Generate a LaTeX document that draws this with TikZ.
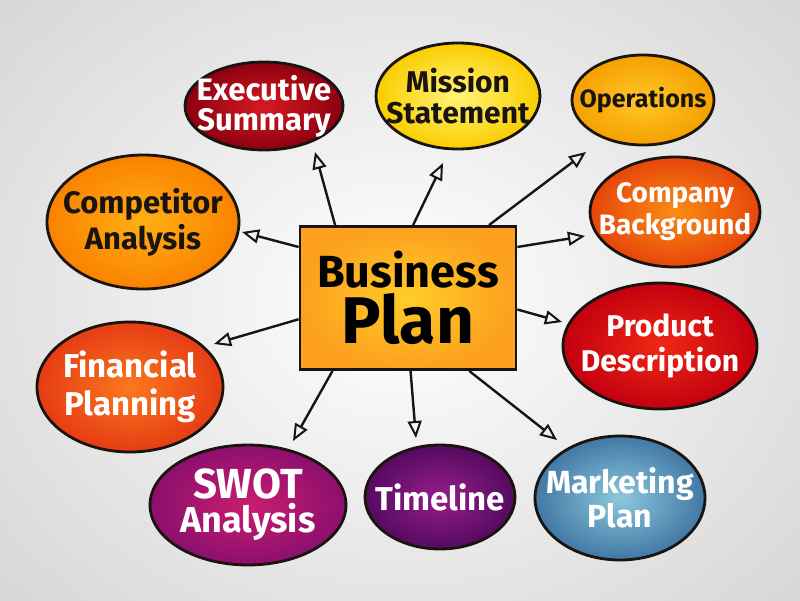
\documentclass[tikz,border=0pt]{standalone}
\usepackage{fontspec}
\setmainfont{Fira Sans}
\usetikzlibrary{arrows.meta,shapes.geometric}
\definecolor{ink}{RGB}{25,20,15}
\newcommand{\fsz}[2]{\bfseries\fontsize{#1}{#2}\selectfont}
\tikzset{
  bubble/.style={ellipse, draw=ink, line width=2.8pt, inner sep=0pt},
  label/.style={align=center, text=white, inner sep=0pt},
  conn/.style={draw=ink, line width=2.4pt, -{Triangle[open, length=17pt, width=14pt, line width=2pt]}},
}
\begin{document}
\begin{tikzpicture}[x=1pt,y=-1pt]
\useasboundingbox (0,0) rectangle (800,600);
\fill[inner color=white, outer color=black!16] (-150,-150) rectangle (950,750);

% central box
\node[draw=ink, line width=2.8pt, inner sep=0pt, minimum width=216pt, minimum height=143pt,
      inner color={rgb,255:red,255;green,205;blue,40}, outer color={rgb,255:red,252;green,160;blue,30},
      align=center] (bp) at (408,298)
      {{\fsz{45}{45}Business}\\[4pt]{\fsz{66}{60}Plan}};

% bubbles
\node[bubble, minimum width=158pt, minimum height=88pt,
      inner color={rgb,255:red,215;green,25;blue,35}, outer color={rgb,255:red,140;green,0;blue,15}]
      (es) at (264,106) {};
\node[label, font=\fsz{31}{30}] (les) at (es) {Executive\\Summary};

\node[bubble, minimum width=164pt, minimum height=106pt,
      inner color={rgb,255:red,255;green,245;blue,120}, outer color={rgb,255:red,250;green,205;blue,0}]
      (ms) at (458,96) {};
\node[label, text=ink, font=\fsz{30}{31}] (lms) at (ms) {Mission\\Statement};

\node[bubble, minimum width=142pt, minimum height=90pt,
      inner color={rgb,255:red,255;green,200;blue,40}, outer color={rgb,255:red,245;green,160;blue,0}]
      (op) at (643,100) {};
\node[label, text=ink, font=\fsz{25}{27}] (lop) at (op) {Operations};

\node[bubble, minimum width=170pt, minimum height=110pt,
      inner color={rgb,255:red,250;green,140;blue,20}, outer color={rgb,255:red,230;green,70;blue,10}]
      (cb) at (675,212) {};
\node[label, font=\fsz{28}{32}] (lcb) at (cb) {Company\\Background};

\node[bubble, minimum width=194pt, minimum height=126pt,
      inner color={rgb,255:red,240;green,40;blue,20}, outer color={rgb,255:red,195;green,0;blue,15}]
      (pd) at (660,346) {};
\node[label, font=\fsz{30}{35}] (lpd) at (pd) {Product\\Description};

\node[bubble, minimum width=170pt, minimum height=124pt,
      inner color={rgb,255:red,140;green,200;blue,220}, outer color={rgb,255:red,65;green,120;blue,165}]
      (mp) at (620,498) {};
\node[label, font=\fsz{32}{34}] (lmp) at (mp) {Marketing\\Plan};

\node[bubble, minimum width=150pt, minimum height=104pt,
      inner color={rgb,255:red,150;green,30;blue,140}, outer color={rgb,255:red,85;green,10;blue,95}]
      (tl) at (440,497) {};
\node[label, font=\fsz{33}{36}] (ltl) at (tl) {Timeline};

\node[bubble, minimum width=196pt, minimum height=120pt,
      inner color={rgb,255:red,200;green,30;blue,110}, outer color={rgb,255:red,140;green,15;blue,110}]
      (sw) at (248,505) {};
\node[label] (lsw) at (sw) {{\fsz{42}{42}SWOT}\\[3pt]{\fsz{36}{36}Analysis}};

\node[bubble, minimum width=186pt, minimum height=130pt,
      inner color={rgb,255:red,250;green,120;blue,30}, outer color={rgb,255:red,230;green,60;blue,20}]
      (fp) at (130,387) {};
\node[label, font=\fsz{33}{38}] (lfp) at (fp) {Financial\\Planning};

\node[bubble, minimum width=192pt, minimum height=134pt,
      inner color={rgb,255:red,255;green,175;blue,20}, outer color={rgb,255:red,250;green,130;blue,0}]
      (ca) at (143,222) {};
\node[label, text=ink, font=\fsz{31}{36}] (lca) at (ca) {Competitor\\Analysis};

% arrow tips
\coordinate (tes) at (315,152);
\coordinate (tms) at (443,163);
\coordinate (top) at (586,152);
\coordinate (tcb) at (585,236);
\coordinate (tpd) at (562,322);
\coordinate (tmp) at (557,440);
\coordinate (ttl) at (416,438);
\coordinate (tsw) at (293,441);
\coordinate (tfp) at (214,344);
\coordinate (tca) at (242,232);

\draw[conn] (bp.135) -- (tes);
\draw[conn] (bp.86) -- (tms);
\draw[conn] (bp.42) -- (top);
\draw[conn] (bp.25) -- (tcb);
\draw[conn] (bp.-6) -- (tpd);
\draw[conn] (bp.-50) -- (tmp);
\draw[conn] (bp.-88) -- (ttl);
\draw[conn] (bp.-136) -- (tsw);
\draw[conn] (bp.-169) -- (tfp);
\draw[conn] (bp.155) -- (tca);
\end{tikzpicture}
\end{document}
